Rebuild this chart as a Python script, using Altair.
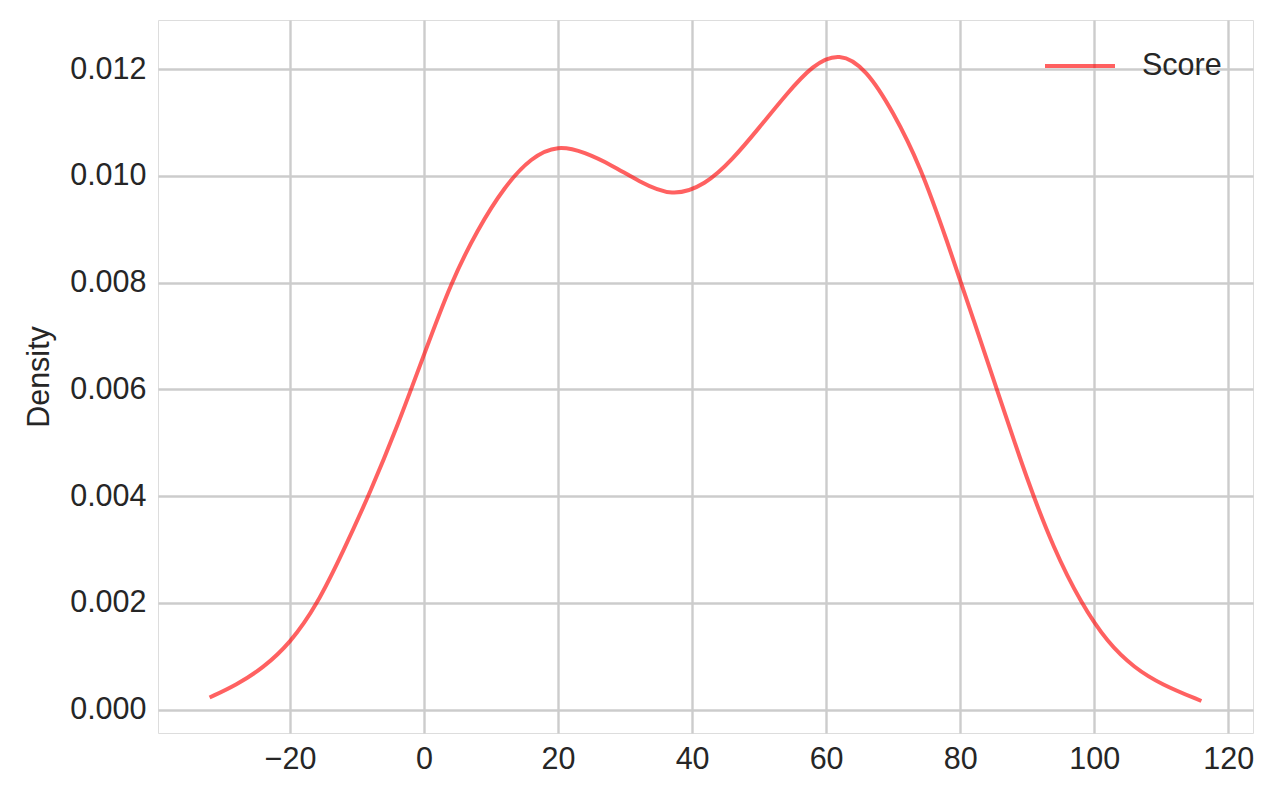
import altair as alt
import pandas as pd

score_x = [-32, -28, -24, -20, -16, -12, -8, -4, 0, 4, 8, 12, 16, 20, 24, 28, 32, 37,
           42, 46, 50, 54, 58, 62, 66, 70, 74, 78, 82, 86, 90, 94, 98, 102, 106, 110, 116]
density = [0.000225, 0.00046, 0.00078, 0.00124, 0.00195, 0.00298, 0.00408, 0.00530,
           0.00665, 0.0080, 0.0090, 0.0098, 0.01035, 0.01058, 0.01044, 0.0102, 0.0099,
           0.00960, 0.00983, 0.0103, 0.0109, 0.01152, 0.01208, 0.01232, 0.01200, 0.0112,
           0.0102, 0.0088, 0.0073, 0.0058, 0.0043, 0.0030, 0.0020, 0.00125, 0.00078,
           0.00047, 0.00016]
series = ["Score"] * len(score_x)

x_ticks = [-20, 0, 20, 40, 60, 80, 100, 120]
y_ticks = [0.0, 0.002, 0.004, 0.006, 0.008, 0.010, 0.012]

df = pd.DataFrame({"x": score_x, "y": density, "series": series})

FONT = "Liberation Sans"
FS = 30.5
TXT = "#262626"

chart = alt.Chart(df).mark_line(
    interpolate="basis", strokeWidth=4, strokeOpacity=0.62
).encode(
    x=alt.X("x:Q", scale=alt.Scale(domain=[-39.7, 123.7], nice=False, zero=False),
            axis=alt.Axis(values=x_ticks, format="d", title=None, grid=True,
                          gridColor="#cccccc", gridWidth=2.4, ticks=False, domain=False,
                          labelFontSize=FS, labelColor=TXT, labelFont=FONT,
                          labelPadding=11)),
    y=alt.Y("y:Q", scale=alt.Scale(domain=[-0.00044, 0.01292], nice=False, zero=False),
            axis=alt.Axis(values=y_ticks, format=".3f", title="Density", grid=True,
                          gridColor="#cccccc", gridWidth=2.4, ticks=False, domain=False,
                          labelFontSize=FS, labelColor=TXT, labelFont=FONT,
                          labelPadding=12, titleFontSize=FS, titleFont=FONT,
                          titleFontWeight="normal", titleColor=TXT,
                          titlePadding=15)),
    color=alt.Color("series:N", scale=alt.Scale(range=["#ff0000"]),
                    legend=alt.Legend(title=None, orient="none", legendX=885, legendY=9,
                                      symbolType="stroke", symbolSize=4900,
                                      symbolStrokeWidth=4, symbolOpacity=0.62,
                                      labelFontSize=FS, labelFont=FONT,
                                      labelColor=TXT, labelOffset=25)),
).properties(
    width=1095, height=713,
    autosize=alt.AutoSizeParams(type="none"),
    padding={"left": 150, "top": 12, "right": 10, "bottom": 50},
).configure_view(
    stroke="#cccccc", strokeWidth=2.6
).configure(background="white")

chart.save("out.html", embed_options={"renderer": "svg", "actions": False})
